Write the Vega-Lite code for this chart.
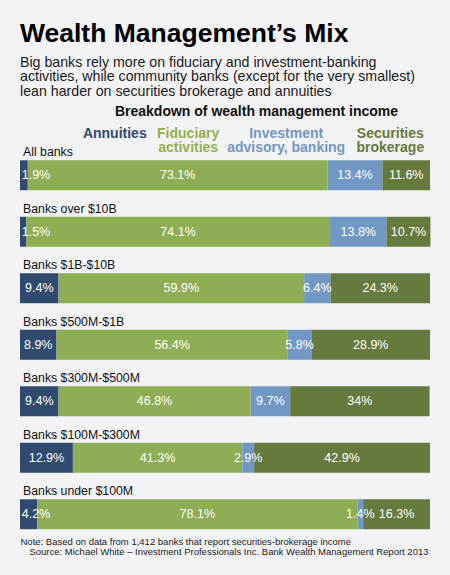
{
  "$schema": "https://vega.github.io/schema/vega-lite/v6.json",
  "description": "Breakdown of wealth management income by bank size",
  "autosize": {"type": "none"},
  "padding": {"left": 20, "top": 147, "right": 20, "bottom": 32},
  "width": 410,
  "height": 395.5,
  "background": "#f3f3f5",
  "config": {"view": {"stroke": null}, "font": "Liberation Sans"},
  "title": {
    "text": "Wealth Management’s Mix",
    "subtitle": [
      "Big banks rely more on fiduciary and investment-banking",
      "activities, while community banks (except for the very smallest)",
      "lean harder on securities brokerage and annuities"
    ],
    "anchor": "start",
    "frame": "group",
    "offset": 5,
    "font": "Liberation Sans",
    "fontSize": 26.5,
    "fontWeight": "bold",
    "color": "#000000",
    "subtitleFont": "Liberation Sans",
    "subtitleFontSize": 14.2,
    "subtitleColor": "#1a1a1a",
    "subtitleLineHeight": 14.5,
    "subtitlePadding": 8
  },
  "data": {
    "values": [
      {"bank": "All banks", "type": "Annuities", "share": 1.9},
      {"bank": "All banks", "type": "Fiduciary activities", "share": 73.1},
      {"bank": "All banks", "type": "Investment advisory, banking", "share": 13.4},
      {"bank": "All banks", "type": "Securities brokerage", "share": 11.6},
      {"bank": "Banks over $10B", "type": "Annuities", "share": 1.5},
      {"bank": "Banks over $10B", "type": "Fiduciary activities", "share": 74.1},
      {"bank": "Banks over $10B", "type": "Investment advisory, banking", "share": 13.8},
      {"bank": "Banks over $10B", "type": "Securities brokerage", "share": 10.7},
      {"bank": "Banks $1B-$10B", "type": "Annuities", "share": 9.4},
      {"bank": "Banks $1B-$10B", "type": "Fiduciary activities", "share": 59.9},
      {"bank": "Banks $1B-$10B", "type": "Investment advisory, banking", "share": 6.4},
      {"bank": "Banks $1B-$10B", "type": "Securities brokerage", "share": 24.3},
      {"bank": "Banks $500M-$1B", "type": "Annuities", "share": 8.9},
      {"bank": "Banks $500M-$1B", "type": "Fiduciary activities", "share": 56.4},
      {"bank": "Banks $500M-$1B", "type": "Investment advisory, banking", "share": 5.8},
      {"bank": "Banks $500M-$1B", "type": "Securities brokerage", "share": 28.9},
      {"bank": "Banks $300M-$500M", "type": "Annuities", "share": 9.4},
      {"bank": "Banks $300M-$500M", "type": "Fiduciary activities", "share": 46.8},
      {"bank": "Banks $300M-$500M", "type": "Investment advisory, banking", "share": 9.7},
      {"bank": "Banks $300M-$500M", "type": "Securities brokerage", "share": 34},
      {"bank": "Banks $100M-$300M", "type": "Annuities", "share": 12.9},
      {"bank": "Banks $100M-$300M", "type": "Fiduciary activities", "share": 41.3},
      {"bank": "Banks $100M-$300M", "type": "Investment advisory, banking", "share": 2.9},
      {"bank": "Banks $100M-$300M", "type": "Securities brokerage", "share": 42.9},
      {"bank": "Banks under $100M", "type": "Annuities", "share": 4.2},
      {"bank": "Banks under $100M", "type": "Fiduciary activities", "share": 78.1},
      {"bank": "Banks under $100M", "type": "Investment advisory, banking", "share": 1.4},
      {"bank": "Banks under $100M", "type": "Securities brokerage", "share": 16.3}
    ]
  },
  "transform": [
    {"stack": "share", "groupby": ["bank"], "sort": [{"field": "type", "order": "ascending"}], "as": ["x0", "x1"]},
    {"calculate": "datum.share + '%'", "as": "label"},
    {"calculate": "max((datum.x0 + datum.x1) / 2, 3.9)", "as": "mid"}
  ],
  "encoding": {
    "y": {
      "field": "bank",
      "type": "nominal",
      "sort": ["All banks", "Banks over $10B", "Banks $1B-$10B", "Banks $500M-$1B", "Banks $300M-$500M", "Banks $100M-$300M", "Banks under $100M"],
      "scale": {"paddingInner": 0.47, "paddingOuter": 0.235},
      "axis": null
    }
  },
  "resolve": {"axis": {"x": "independent"}},
  "layer": [
    {
      "mark": {"type": "bar"},
      "encoding": {
        "x": {
          "field": "x0",
          "type": "quantitative",
          "scale": {"domain": [0, 100], "nice": false},
          "axis": {
            "orient": "top",
            "values": [23, 40.9, 64.8, 90.2],
            "domain": false,
            "ticks": false,
            "tickSize": 0,
            "grid": false,
            "labelExpr": "datum.value < 30 ? 'Annuities' : datum.value < 50 ? ['Fiduciary', 'activities'] : datum.value < 80 ? ['Investment', 'advisory, banking'] : ['Securities', 'brokerage']",
            "labelColor": {"expr": "datum.value < 30 ? '#30496c' : datum.value < 50 ? '#93b052' : datum.value < 80 ? '#7396c3' : '#66793c'"},
            "labelFont": "Liberation Sans",
            "labelFontSize": 14,
            "labelFontWeight": "bold",
            "labelLineHeight": 14.5,
            "labelBaseline": "alphabetic",
            "labelAlign": "center",
            "labelPadding": 10,
            "labelFlush": false,
            "labelOverlap": false,
            "title": "Breakdown of wealth management income",
            "titleFont": "Liberation Sans",
            "titleFontSize": 14,
            "titleFontWeight": "bold",
            "titleColor": "#111111",
            "titleX": 236,
            "titleY": -32,
            "titleBaseline": "alphabetic"
          }
        },
        "x2": {"field": "x1"},
        "color": {
          "field": "type",
          "type": "nominal",
          "scale": {
            "domain": ["Annuities", "Fiduciary activities", "Investment advisory, banking", "Securities brokerage"],
            "range": ["#2f4b6e", "#8fad55", "#7198c4", "#677a3d"]
          },
          "legend": null
        }
      }
    },
    {
      "mark": {"type": "text", "color": "#ffffff", "fontSize": 12.5, "baseline": "middle", "align": "center"},
      "encoding": {
        "x": {
          "field": "mid",
          "type": "quantitative",
          "axis": {
            "orient": "bottom",
            "labels": false,
            "ticks": false,
            "domain": false,
            "grid": false,
            "title": "Note: Based on data from 1,412 banks that report securities-brokerage income",
            "titleFont": "Liberation Sans",
            "titleFontSize": 9.5,
            "titleFontWeight": "normal",
            "titleColor": "#222222",
            "titleAnchor": "start",
            "titleAlign": "left",
            "titleBaseline": "alphabetic",
            "titleX": 0,
            "titleY": 2
          }
        },
        "text": {"field": "label"}
      }
    },
    {
      "transform": [{"filter": "datum.type === 'Annuities'"}],
      "mark": {"type": "text", "color": "#111111", "fontSize": 12.3, "baseline": "alphabetic", "align": "left", "dx": 3, "dy": -19},
      "encoding": {
        "x": {
          "field": "x0",
          "type": "quantitative",
          "axis": {
            "orient": "bottom",
            "labels": false,
            "ticks": false,
            "domain": false,
            "grid": false,
            "title": "Source: Michael White – Investment Professionals Inc. Bank Wealth Management Report 2013",
            "titleFont": "Liberation Sans",
            "titleFontSize": 9.5,
            "titleFontWeight": "normal",
            "titleColor": "#222222",
            "titleAnchor": "end",
            "titleAlign": "right",
            "titleBaseline": "alphabetic",
            "titleX": 408,
            "titleY": 12
          }
        },
        "text": {"field": "bank"}
      }
    }
  ]
}
